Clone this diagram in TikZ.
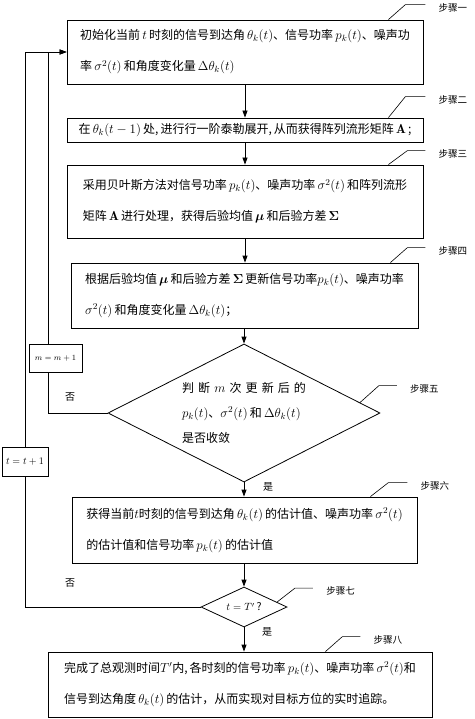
\RequirePackage{fix-cm}
\documentclass[tikz,border=0pt]{standalone}
\usepackage{fontspec}
\usepackage{bm}
\usetikzlibrary{shapes.geometric,arrows.meta,calc,positioning}
\newfontfamily\cjk{Noto Sans CJK SC}
\DeclareMathSizes{12}{13}{9}{7}

\tikzset{
   stepbox/.style={draw, line width=0.8pt, align=left, inner xsep=7pt,
      font=\cjk\fontsize{12}{31}\selectfont},
   decide/.style={draw, diamond, aspect=2, inner sep=0pt, line width=0.8pt},
   countbox/.style={draw, line width=0.8pt, inner sep=2pt},
   steplabel/.style={anchor=west, inner xsep=13pt, yshift=-3pt,
      font=\cjk\fontsize{9.5}{11}\selectfont},
   yesno/.style={font=\cjk\fontsize{10}{12}\selectfont},
   arr/.style={-{Triangle[length=7pt,width=5pt]}, line width=0.8pt},
   loopline/.style={line width=0.8pt},
   leader/.style={line width=0.6pt}
}

\begin{document}
\begin{tikzpicture}[x=1pt, y=-1pt]  % <-- pixel-like coordinates, y downwards
\useasboundingbox (0,0) rectangle (474,719);

\node[stepbox, minimum width=356pt, minimum height=64pt] (init) at (245,52)
   {初始化当前$\,t\,$时刻的信号到达角$\,\theta_k(t)$、信号功率$\,p_k(t)$、噪声功\\
    率$\,\sigma^2(t)\,$和角度变化量$\,\Delta\theta_k(t)$};
\node[stepbox, minimum width=356pt, minimum height=24pt] (taylor) at (245,130)
   {在$\,\theta_k(t-1)\,$处,\,进行行一阶泰勒展开,\,从而获得阵列流形矩阵$\,\mathbf{A}\,$;};
\node[stepbox, minimum width=356pt, minimum height=73pt] (bayes) at (245,201.5)
   {采用贝叶斯方法对信号功率$\,p_k(t)$、噪声功率$\,\sigma^2(t)\,$和阵列流形\\
    矩阵$\,\mathbf{A}\,$进行处理，获得后验均值$\,\bm{\mu}\,$和后验方差$\,\bm{\Sigma}$};
\node[stepbox, minimum width=347pt, minimum height=65pt] (update) at (244.5,295.5)
   {根据后验均值$\,\bm{\mu}\,$和后验方差$\,\bm{\Sigma}\,$更新信号功率$p_k(t)$、噪声功率\\
    $\sigma^2(t)\,$和角度变化量$\,\Delta\theta_k(t)$；};
\node[decide, minimum width=272pt, minimum height=138pt, align=left,
      font=\cjk\fontsize{12}{25}\selectfont] (conv) at (244,413)
   {\makebox[124pt][s]{判 断 $m$ 次 更 新 后 的}\\
    $p_k(t)$、$\sigma^2(t)\,$和$\,\Delta\theta_k(t)$\\
    是否收敛};
\node[stepbox, minimum width=345pt, minimum height=66pt] (est) at (244.5,530)
   {获得当前$t$时刻的信号到达角$\,\theta_k(t)\,$的估计值、噪声功率$\,\sigma^2(t)$\\
    的估计值和信号功率$\,p_k(t)\,$的估计值};
\node[decide, minimum width=86pt, minimum height=40pt,
      font=\cjk\fontsize{10.5}{12}\selectfont] (tcheck) at (244,607) {$t=T'\,$?};
\node[stepbox, minimum width=384pt, minimum height=65pt] (final) at (240,684.5)
   {完成了总观测时间$T'$内,\,各时刻的信号功率$\,p_k(t)$、噪声功率$\,\sigma^2(t)$和\\
    信号到达角度$\,\theta_k(t)\,$的估计，从而实现对目标方位的实时追踪。};

\node[countbox, minimum width=53pt, minimum height=28pt,
      font=\fontsize{8}{10}\selectfont] (minc) at (55.5,358) {$m=m+1$};
\node[countbox, minimum width=46pt, minimum height=29pt,
      font=\fontsize{10}{12}\selectfont] (tinc) at (25,461.5) {$t=t+1$};

% main flow
\draw[arr] (init.south) -- (taylor.north);
\draw[arr] (taylor.south) -- (bayes.north);
\draw[arr] (bayes.south) -- (update.north -| bayes.south);
\draw[arr] (update.south -| conv.north) -- (conv.north);
\draw[arr] (conv.south) -- (est.north -| conv.south);
\draw[arr] (est.south -| tcheck.north) -- (tcheck.north);
\draw[arr] (tcheck.south) -- (final.north -| tcheck.south);

% loops back to the first step
\draw[loopline] (conv.west) -| ([xshift=-7.5pt]minc.south);
\draw[arr] ([xshift=-7.5pt]minc.north) |- (init.west);
\draw[loopline] (tcheck.west) -| (tinc.south);
\draw[arr] (tinc.north) |- (init.west);

\node[yesno] (no1) at (70,397) {否};
\node[yesno] (no2) at (70,583) {否};
\node[yesno] (yes1) at (268,487) {是};
\node[yesno] (yes2) at (267,632) {是};

% step labels
\draw[leader] ([xshift=-35pt]init.north east) -- ++(17,-15) -- ++(20,0)
   node[steplabel] (s1) {步骤一};
\draw[leader] ([xshift=-35pt]taylor.north east) -- ++(17,-21) -- ++(20,0)
   node[steplabel] (s2) {步骤二};
\draw[leader] ([xshift=-35pt]bayes.north east) -- ++(19,-14) -- ++(18,0)
   node[steplabel] (s3) {步骤三};
\draw[leader] ([xshift=-28pt]update.north east) -- ++(17,-15) -- ++(18,0)
   node[steplabel] (s4) {步骤四};
\draw[leader] ($(conv.north)!0.85!(conv.east)$) -- ++(19,-17) -- ++(18,0)
   node[steplabel] (s5) {步骤五};
\draw[leader] ([xshift=-47pt]est.north east) -- ++(18,-14) -- ++(19,0)
   node[steplabel] (s6) {步骤六};
\draw[leader] ($(tcheck.north)!0.76!(tcheck.east)$) -- ++(18,-14) -- ++(18,0)
   node[steplabel] (s7) {步骤七};
\draw[leader] ([xshift=-107pt]final.north east) -- ++(17,-15) -- ++(18,0)
   node[steplabel] (s8) {步骤八};
\end{tikzpicture}
\end{document}
